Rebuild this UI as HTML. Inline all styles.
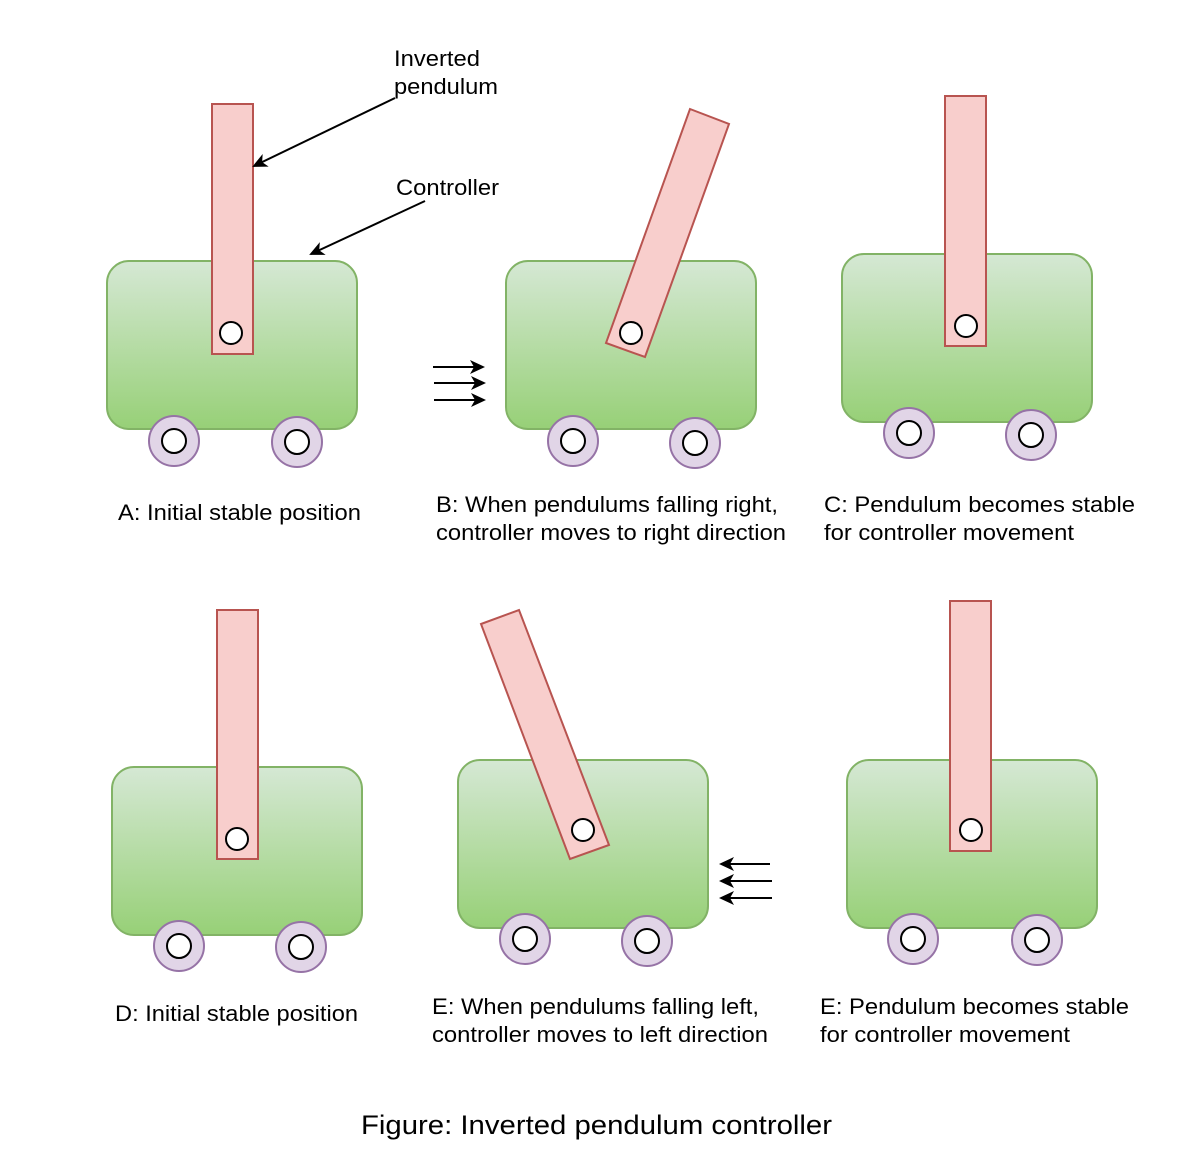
<!DOCTYPE html>
<html><head><meta charset="utf-8"><style>
html,body{margin:0;padding:0;background:#fff;}
svg{display:block;}
text{font-family:"Liberation Sans",Arial,sans-serif;fill:#000;}
</style></head><body>
<svg width="1194" height="1176" viewBox="0 0 1194 1176" xmlns="http://www.w3.org/2000/svg">
<defs>
<linearGradient id="g" x1="0" y1="0" x2="0" y2="1">
<stop offset="0" stop-color="#d5e8d4"/><stop offset="1" stop-color="#97d077"/>
</linearGradient>
<marker id="ah" markerWidth="16" markerHeight="14" refX="13" refY="7" orient="auto" markerUnits="userSpaceOnUse">
<path d="M0,0 L15,7 L0,14 L4,7 Z" fill="#000"/>
</marker>
</defs>
<g stroke-width="2">
<rect x="107" y="261" width="250" height="168" rx="22" fill="url(#g)" stroke="#82b366"/>
<rect x="212" y="104" width="41" height="250" fill="#f8cecc" stroke="#b85450"/>
<circle cx="231" cy="333" r="11" fill="#fff" stroke="#000"/>
<circle cx="174" cy="441" r="25" fill="#e1d5e7" stroke="#9673a6"/><circle cx="174" cy="441" r="12" fill="#fff" stroke="#000"/>
<circle cx="297" cy="442" r="25" fill="#e1d5e7" stroke="#9673a6"/><circle cx="297" cy="442" r="12" fill="#fff" stroke="#000"/>
<rect x="506" y="261" width="250" height="168" rx="22" fill="url(#g)" stroke="#82b366"/>
<polygon points="690,109 729,124 645,357 606,343" fill="#f8cecc" stroke="#b85450"/>
<circle cx="631" cy="333" r="11" fill="#fff" stroke="#000"/>
<circle cx="573" cy="441" r="25" fill="#e1d5e7" stroke="#9673a6"/><circle cx="573" cy="441" r="12" fill="#fff" stroke="#000"/>
<circle cx="695" cy="443" r="25" fill="#e1d5e7" stroke="#9673a6"/><circle cx="695" cy="443" r="12" fill="#fff" stroke="#000"/>
<rect x="842" y="254" width="250" height="168" rx="22" fill="url(#g)" stroke="#82b366"/>
<rect x="945" y="96" width="41" height="250" fill="#f8cecc" stroke="#b85450"/>
<circle cx="966" cy="326" r="11" fill="#fff" stroke="#000"/>
<circle cx="909" cy="433" r="25" fill="#e1d5e7" stroke="#9673a6"/><circle cx="909" cy="433" r="12" fill="#fff" stroke="#000"/>
<circle cx="1031" cy="435" r="25" fill="#e1d5e7" stroke="#9673a6"/><circle cx="1031" cy="435" r="12" fill="#fff" stroke="#000"/>
<rect x="112" y="767" width="250" height="168" rx="22" fill="url(#g)" stroke="#82b366"/>
<rect x="217" y="610" width="41" height="249" fill="#f8cecc" stroke="#b85450"/>
<circle cx="237" cy="839" r="11" fill="#fff" stroke="#000"/>
<circle cx="179" cy="946" r="25" fill="#e1d5e7" stroke="#9673a6"/><circle cx="179" cy="946" r="12" fill="#fff" stroke="#000"/>
<circle cx="301" cy="947" r="25" fill="#e1d5e7" stroke="#9673a6"/><circle cx="301" cy="947" r="12" fill="#fff" stroke="#000"/>
<rect x="458" y="760" width="250" height="168" rx="22" fill="url(#g)" stroke="#82b366"/>
<polygon points="481,624 519,610 609,845 570,859" fill="#f8cecc" stroke="#b85450"/>
<circle cx="583" cy="830" r="11" fill="#fff" stroke="#000"/>
<circle cx="525" cy="939" r="25" fill="#e1d5e7" stroke="#9673a6"/><circle cx="525" cy="939" r="12" fill="#fff" stroke="#000"/>
<circle cx="647" cy="941" r="25" fill="#e1d5e7" stroke="#9673a6"/><circle cx="647" cy="941" r="12" fill="#fff" stroke="#000"/>
<rect x="847" y="760" width="250" height="168" rx="22" fill="url(#g)" stroke="#82b366"/>
<rect x="950" y="601" width="41" height="250" fill="#f8cecc" stroke="#b85450"/>
<circle cx="971" cy="830" r="11" fill="#fff" stroke="#000"/>
<circle cx="913" cy="939" r="25" fill="#e1d5e7" stroke="#9673a6"/><circle cx="913" cy="939" r="12" fill="#fff" stroke="#000"/>
<circle cx="1037" cy="940" r="25" fill="#e1d5e7" stroke="#9673a6"/><circle cx="1037" cy="940" r="12" fill="#fff" stroke="#000"/>
</g>
<g stroke="#000" stroke-width="2" fill="none">
<line x1="395" y1="98" x2="254" y2="166" marker-end="url(#ah)"/>
<line x1="425" y1="201" x2="311" y2="254" marker-end="url(#ah)"/>
<line x1="433" y1="367" x2="483" y2="367" marker-end="url(#ah)"/>
<line x1="434" y1="383" x2="484" y2="383" marker-end="url(#ah)"/>
<line x1="434" y1="400" x2="484" y2="400" marker-end="url(#ah)"/>
<line x1="770" y1="864" x2="721" y2="864" marker-end="url(#ah)"/>
<line x1="772" y1="881" x2="721" y2="881" marker-end="url(#ah)"/>
<line x1="772" y1="898" x2="721" y2="898" marker-end="url(#ah)"/>
</g>
<g font-size="22">
<text x="394" y="66" textLength="86" lengthAdjust="spacingAndGlyphs">Inverted</text>
<text x="394" y="94" textLength="104" lengthAdjust="spacingAndGlyphs">pendulum</text>
<text x="396" y="195" textLength="103" lengthAdjust="spacingAndGlyphs">Controller</text>
<text x="118" y="520" textLength="243" lengthAdjust="spacingAndGlyphs">A: Initial stable position</text>
<text x="436" y="512" textLength="342" lengthAdjust="spacingAndGlyphs">B: When pendulums falling right,</text>
<text x="436" y="540" textLength="350" lengthAdjust="spacingAndGlyphs">controller moves to right direction</text>
<text x="824" y="512" textLength="311" lengthAdjust="spacingAndGlyphs">C: Pendulum becomes stable</text>
<text x="824" y="540" textLength="250" lengthAdjust="spacingAndGlyphs">for controller movement</text>
<text x="115" y="1021" textLength="243" lengthAdjust="spacingAndGlyphs">D: Initial stable position</text>
<text x="432" y="1014" textLength="327" lengthAdjust="spacingAndGlyphs">E: When pendulums falling left,</text>
<text x="432" y="1042" textLength="336" lengthAdjust="spacingAndGlyphs">controller moves to left direction</text>
<text x="820" y="1014" textLength="309" lengthAdjust="spacingAndGlyphs">E: Pendulum becomes stable</text>
<text x="820" y="1042" textLength="250" lengthAdjust="spacingAndGlyphs">for controller movement</text>
</g>
<text x="361" y="1134" font-size="27" textLength="471" lengthAdjust="spacingAndGlyphs">Figure: Inverted pendulum controller</text>
</svg>
</body></html>
